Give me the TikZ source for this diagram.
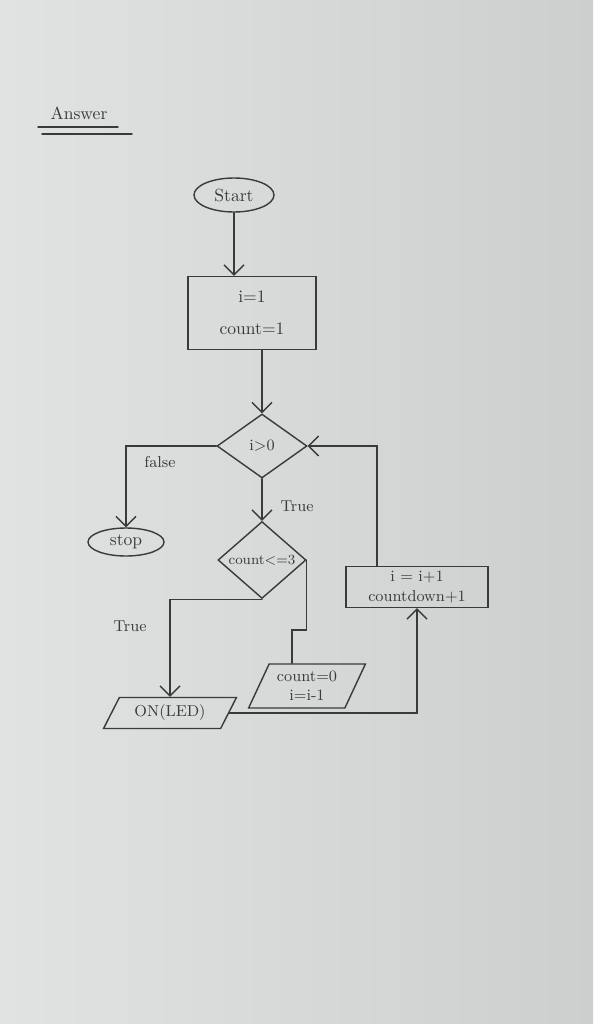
\documentclass[tikz,border=0pt]{standalone}
\usepackage{tikz}
\usetikzlibrary{arrows.meta,shapes.geometric}
\usepackage{xcolor}
\definecolor{paperL}{RGB}{224,227,225}
\definecolor{paperR}{RGB}{204,207,206}
\definecolor{ink}{RGB}{58,58,58}

\tikzset{
  startstop/.style={ellipse,draw=ink,thick,inner sep=1pt},
  process/.style={rectangle,draw=ink,thick,align=center},
  decision/.style={diamond,draw=ink,thick,inner sep=0pt,font=\small},
  io/.style={trapezium,draw=ink,thick,align=center,inner xsep=1pt,inner ysep=2pt},
  flow/.style={draw=ink,thick},
  lbl/.style={text=ink,font=\small}
}

\begin{document}
\begin{tikzpicture}[x=0.02cm,y=-0.02cm,>={Straight Barb[length=2mm]},line cap=round,text=ink]
\shade[left color=paperL,right color=paperR] (0,0) rectangle (593,1024);
\useasboundingbox (0,0) rectangle (593,1024);

% heading
\node[lbl,font=\normalsize] (answer) at (79,113) {Answer};
\draw[flow] (38,127) -- (118,127);
\draw[flow] (42,134) -- (132,134);

% blocks
\node[startstop,minimum width=1.6cm,minimum height=0.68cm] (start) at (234,195) {Start};
\node[process,minimum width=2.56cm,minimum height=1.46cm] (init) at (252,313) {i=1\\[6pt]count=1};
\node[decision,minimum width=1.8cm,minimum height=1.28cm] (test) at (262,446) {i\textgreater0};
\node[startstop,minimum width=1.52cm,minimum height=0.56cm] (stop) at (126,542) {stop};
\node[decision,minimum width=1.76cm,minimum height=1.12cm,font=\footnotesize] (chk) at (262,560) {count\textless=3};
\node[process,minimum width=2.84cm,minimum height=0.82cm,inner sep=1pt,font=\small] (inc) at (417,587) {i = i+1\\countdown+1};
\node[io,trapezium left angle=65,trapezium right angle=115,minimum height=0.88cm,font=\small] (reset) at (307,686) {count=0\\i=i-1};
\node[io,trapezium left angle=63,trapezium right angle=117,minimum height=0.62cm,font=\small] (led) at (170,713) {ON(LED)};

% connectors
\coordinate (jog) at (292,630);
\coordinate (back) at ([xshift=-0.8cm]inc.north);
\draw[flow,->] (start) -- (start |- init.north);
\draw[flow,->] (test.north |- init.south) -- (test.north);
\draw[flow,->] (test.west) -| (stop.north);
\draw[flow,->] (test.south) -- (chk.north);
\draw[flow,->] (chk.south) -| (led.north);
\draw[flow] (chk.east) |- (jog) -- (jog |- reset.north);
\draw[flow,->] (led.east) -| (inc.south);
\draw[flow,->] (back) |- (test.east);

% labels
\node[lbl] (lfalse) at (160,462) {false};
\node[lbl] (ltrue) at (297,506) {True};
\node[lbl] (ltrue2) at (130,626) {True};
\end{tikzpicture}
\end{document}
